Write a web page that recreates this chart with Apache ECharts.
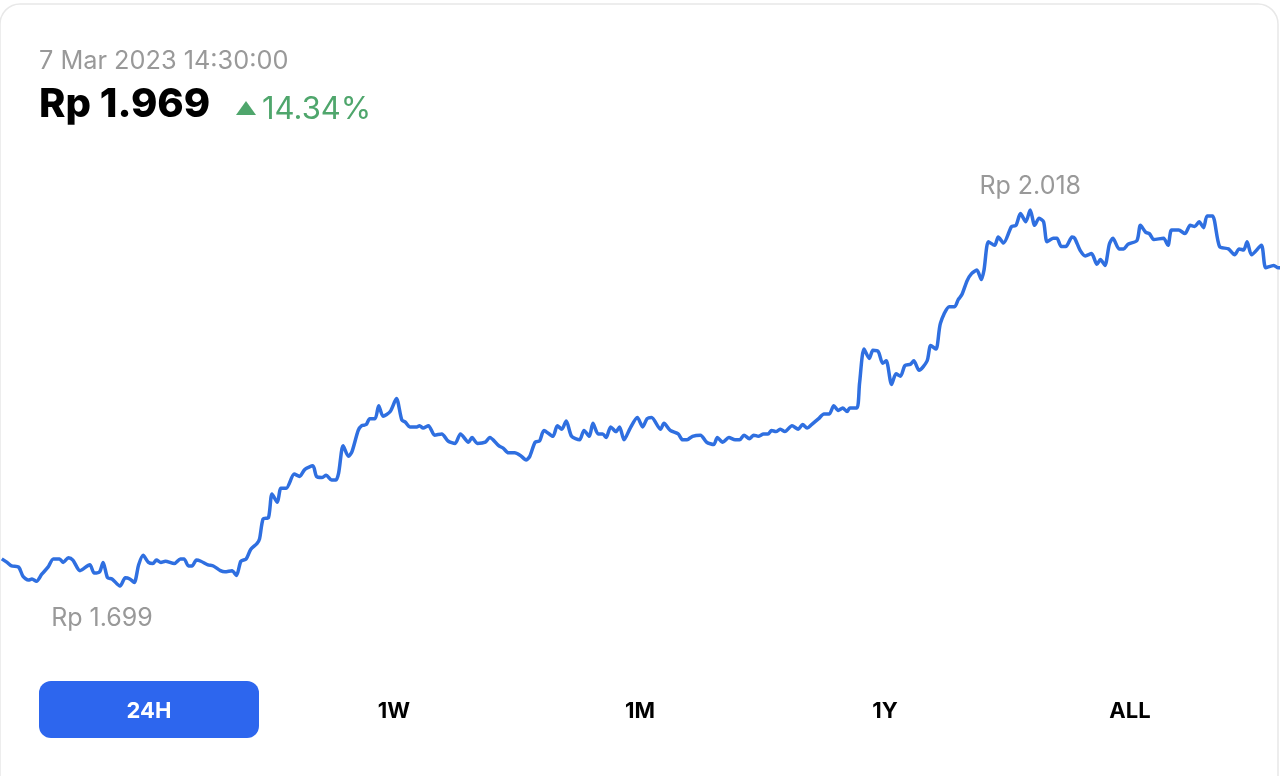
<!DOCTYPE html>
<html lang="en">

<head>
    <meta charset="UTF-8">
    <title>Rp 1.969</title>
    <script src="https://cdn.jsdelivr.net/npm/echarts@6/dist/echarts.min.js"></script>
    <style>
        html, body { margin: 0; padding: 0; background: #fff; }
        #chart { width: 1280px; height: 776px; }
    </style>
</head>

<body>
    <div id="chart"></div>
    <script>
        const minutes = [
            2, 8, 13, 21, 26, 32, 36, 41, 47, 54, 60, 67, 71, 77, 82, 90, 101, 106, 112, 116,
            121, 126, 135, 141, 146, 151, 156, 161, 167, 172, 176, 181, 186, 196, 203, 207, 212, 216, 221, 226,
            234, 240, 248, 253, 261, 266, 271, 277, 282, 289, 292, 296, 302, 306, 312, 316, 322, 331, 337, 343,
            352, 356, 362, 367, 373, 378, 381, 386, 392, 396, 403, 407, 412, 416, 422, 426, 431, 439, 446, 452,
            456, 461, 469, 472, 476, 482,
            489, 497, 504, 512, 518, 527, 531, 537, 546, 551, 561, 566, 572, 579, 585, 592, 596, 602, 607, 612,
            622, 627, 632, 637, 643, 652, 657, 663, 667, 673, 678, 682, 687, 693, 697, 702, 709, 717, 723, 728,
            733, 743, 747, 754, 763, 768, 773, 779, 788, 795, 803, 807, 813, 820, 827, 832, 837, 843, 848, 853,
            859, 864, 868, 873, 878, 883, 891, 898, 903, 908, 913, 921, 927, 933, 938, 943, 948, 953,
            956, 964, 967, 972, 978, 982, 988, 993, 997, 1003, 1008, 1013, 1018, 1024, 1028, 1034, 1043, 1047, 1053, 1058,
            1068, 1074, 1078, 1082, 1088, 1093, 1099, 1104, 1107, 1112, 1119, 1123, 1129, 1138, 1143, 1148, 1154, 1159, 1164, 1169,
            1174, 1178, 1185, 1189, 1194, 1199, 1206, 1209, 1215, 1221, 1228, 1234, 1238, 1243, 1248, 1252, 1259, 1264, 1269, 1279,
            1283, 1289, 1293, 1298, 1309, 1314, 1318, 1326, 1333, 1339, 1344, 1349, 1354, 1358, 1364, 1372, 1382, 1389, 1394, 1399,
            1403, 1408, 1419, 1424, 1433, 1438, 1440
        ];
        // price in rupiah at each of those minutes
        const prices = [
            1722, 1719, 1716, 1715, 1707, 1704, 1705, 1703, 1709, 1715, 1722, 1722, 1719, 1723, 1721, 1712, 1717, 1710, 1711, 1719,
            1706, 1705, 1699, 1706, 1705, 1702, 1717, 1725, 1719, 1718, 1721, 1719, 1720, 1718, 1722, 1722, 1716, 1716, 1721, 1720,
            1717, 1716, 1712, 1711, 1712, 1708, 1720, 1722, 1730, 1735, 1739, 1756, 1757, 1777, 1770, 1782, 1782, 1794, 1792, 1798,
            1801, 1792, 1791, 1793, 1789, 1789, 1795, 1818, 1809, 1813, 1831, 1835, 1836, 1841, 1841, 1852, 1843, 1847, 1858, 1840,
            1838, 1834, 1834, 1835, 1833, 1835,
            1827, 1828, 1822, 1820, 1828, 1821, 1825, 1820, 1821, 1825, 1818, 1816, 1812, 1812, 1810, 1806, 1809, 1821, 1822, 1831,
            1826, 1835, 1832, 1839, 1826, 1823, 1831, 1826, 1837, 1828, 1828, 1825, 1834, 1830, 1834, 1823, 1833, 1842, 1834, 1841,
            1842, 1832, 1837, 1831, 1828, 1823, 1823, 1826, 1827, 1821, 1819, 1825, 1821, 1825, 1823, 1823, 1827, 1824, 1827, 1826,
            1828, 1828, 1831, 1830, 1832, 1830, 1835, 1832, 1836, 1833, 1836, 1841, 1845, 1845, 1852, 1848, 1850, 1847,
            1850, 1850, 1871, 1900, 1892, 1899, 1898, 1888, 1890, 1870, 1879, 1877, 1886, 1887, 1890, 1882, 1890, 1903, 1900, 1922,
            1936, 1936, 1942, 1946, 1958, 1964, 1967, 1959, 1967, 1991, 1988, 1995, 1990, 2004, 2005, 2015, 2008, 2018, 2005, 2011,
            2008, 1991, 1994, 1994, 1987, 1987, 1995, 1994, 1984, 1979, 1981, 1972, 1976, 1971, 1989, 1994, 1985, 1985, 1989, 1992,
            2005, 1999, 1998, 1993, 1994, 1988, 2001, 2001, 1998, 2005, 2004, 2008, 2003, 2013, 2013, 1987, 1985, 1980, 1985, 1984,
            1991, 1980, 1988, 1969, 1971, 1969, 1969
        ];
        const ranges = ['24H', '1W', '1M', '1Y', 'ALL'];
        const rangeCenters = [149, 394, 640, 885, 1130];

        const fontName = 'Inter, "Noto Sans", sans-serif';
        let myChart = echarts.init(document.querySelector('#chart'), null, { renderer: 'canvas' });

        function rupiah(v) {
            return 'Rp ' + String(v).replace(/(\d)(\d{3})$/, '$1.$2');
        }

        // range buttons along the bottom
        let rangeButtons = ranges.map(function (name, i) {
            return {
                type: 'text',
                x: rangeCenters[i],
                y: 711,
                z: 5,
                style: {
                    text: name,
                    fill: i === 0 ? '#fff' : '#000',
                    font: '700 22px ' + fontName,
                    align: 'center',
                    verticalAlign: 'middle'
                }
            };
        });

        let option = {
            animation: false,
            backgroundColor: '#fff',
            grid: { left: 0, right: 0, top: 210, height: 376 },
            xAxis: { type: 'value', min: 0, max: 1440, show: false },
            yAxis: { type: 'value', min: 1699, max: 2018, show: false },
            series: [{
                type: 'line',
                data: minutes.map((m, i) => [m, prices[i]]),
                showSymbol: false,
                smooth: 0.25,
                clip: false,
                lineStyle: { color: '#2f6fe0', width: 3.5 },
                // high and low labels sit on the extremes of the line
                markPoint: {
                    symbol: 'circle',
                    symbolSize: 0,
                    silent: true,
                    label: {
                        color: '#999',
                        fontFamily: fontName,
                        fontSize: 25,
                        formatter: p => rupiah(p.value)
                    },
                    data: [
                        { type: 'max', valueDim: 'y', label: { offset: [0, -24] } },
                        { type: 'min', valueDim: 'y', label: { offset: [-18, 32] } }
                    ]
                }
            }],
            graphic: [
                {
                    type: 'rect',
                    z: -1,
                    shape: { x: 0, y: 4, width: 1278, height: 800, r: 20 },
                    style: { fill: '#fff', stroke: '#e8e8e8', lineWidth: 1.5 }
                },
                {
                    type: 'text', x: 39, y: 61,
                    style: { text: '7 Mar 2023 14:30:00', fill: '#999', font: '400 25.3px ' + fontName, verticalAlign: 'middle' }
                },
                {
                    type: 'text', x: 39, y: 105,
                    style: { text: 'Rp 1.969', fill: '#000', font: '800 40px ' + fontName, verticalAlign: 'middle' }
                },
                {
                    type: 'polygon',
                    shape: { points: [[246, 101], [256, 115], [236, 115]] },
                    style: { fill: '#4fa66c' }
                },
                {
                    type: 'text', x: 262, y: 110,
                    style: { text: '14.34%', fill: '#4fa66c', font: '400 31px ' + fontName, verticalAlign: 'middle' }
                },
                {
                    type: 'rect',
                    shape: { x: 39, y: 681, width: 220, height: 57, r: 12 },
                    style: { fill: '#2d66ee' }
                }
            ].concat(rangeButtons)
        };
        myChart.setOption(option);
    </script>
</body>

</html>
